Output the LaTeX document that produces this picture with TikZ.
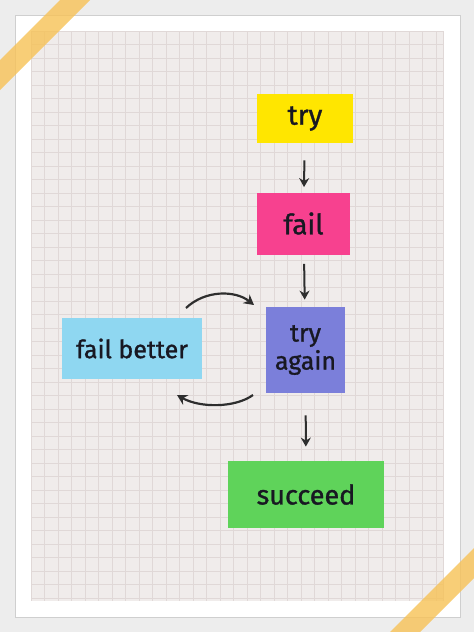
\documentclass[tikz,border=0pt]{standalone}
\usepackage{fontspec}
\setmainfont{Fira Sans}
\newfontfamily\marker{Fira Sans}[FakeBold=1.2]
\usetikzlibrary{arrows.meta}
\definecolor{outerbg}{HTML}{EDEDED}
\definecolor{framebd}{HTML}{CFCFCF}
\definecolor{paper}{HTML}{F0ECEB}
\definecolor{gridln}{HTML}{E0D8D7}
\definecolor{tapec}{HTML}{F7C256}
\definecolor{tryc}{HTML}{FFE600}
\definecolor{failc}{HTML}{F7418F}
\definecolor{againc}{HTML}{7B7FDA}
\definecolor{betterc}{HTML}{8FD7F1}
\definecolor{succc}{HTML}{5FD35A}
\definecolor{ink}{HTML}{181822}
\definecolor{arrowc}{HTML}{2E2E2E}
\tikzset{
  note/.style={rectangle, inner sep=0pt, text=ink},
  flow/.style={draw=arrowc, line width=1pt, -{Stealth[length=4.5pt,width=5pt]}},
  loop/.style={draw=arrowc, line width=1.1pt, -{Stealth[length=5pt,width=5.5pt]}},
  tape/.style={fill=tapec, opacity=0.8, draw=none}
}
\begin{document}
\begin{tikzpicture}[x=0.5pt,y=-0.5pt]
\useasboundingbox (0,0) rectangle (474,632);
% background and frame
\fill[outerbg] (0,0) rectangle (474,632);
\filldraw[fill=white, draw=framebd, line width=0.5pt] (15,15) rectangle (460,617);
% grid paper
\fill[paper] (31,31) rectangle (443,601);
\foreach \i in {0,...,30} {
  \draw[gridln, line width=0.5pt] ({31+13.5*\i},31) -- ({31+13.5*\i},601);
}
\foreach \j in {0,...,42} {
  \draw[gridln, line width=0.5pt] (31,{31+13.5*\j}) -- (443,{31+13.5*\j});
}
\draw[gridln, line width=0.5pt] (443,31) -- (443,601);
% tapes
\fill[tape] (-10,70) -- (70,-10) -- (100,-10) -- (-10,100) -- cycle;
\fill[tape] (380,642) -- (484,538) -- (484,568) -- (410,642) -- cycle;
% notes
\node[note, fill=tryc, minimum width=48pt, minimum height=24.5pt, font=\marker\fontsize{14}{15}\selectfont] (try) at (305,118.5) {try};
\node[note, fill=failc, minimum width=46.5pt, minimum height=31pt, font=\marker\fontsize{14}{15}\selectfont] (fail) at (303.5,223.5) {fail};
\node[note, fill=againc, minimum width=39.5pt, minimum height=43pt, align=center, font=\marker\fontsize{12.5}{14}\selectfont] (again) at (305.5,350) {try\\again};
\node[note, fill=betterc, minimum width=70pt, minimum height=30.5pt, font=\marker\fontsize{12.5}{13}\selectfont] (better) at (132,348.5) {fail better};
\node[note, fill=succc, minimum width=78pt, minimum height=33.5pt, font=\marker\fontsize{13.5}{14}\selectfont] (succeed) at (306,494.5) {succeed};
% straight arrows
\draw[flow, shorten <=8.5pt, shorten >=2.5pt] (try) -- (fail);
\draw[flow, shorten <=4.5pt, shorten >=3.5pt] (fail) -- (again);
\draw[flow, shorten <=11pt, shorten >=7pt] (again) -- (succeed);
% loop arrows
\coordinate (c1) at (186,308);
\coordinate (c2) at (254,305);
\coordinate (c3) at (253,395);
\coordinate (c4) at (177,395);
\draw[loop] (c1) .. controls (205,290) and (235,290) .. (c2);
\draw[loop] (c3) .. controls (235,408) and (200,408) .. (c4);
\end{tikzpicture}
\end{document}
